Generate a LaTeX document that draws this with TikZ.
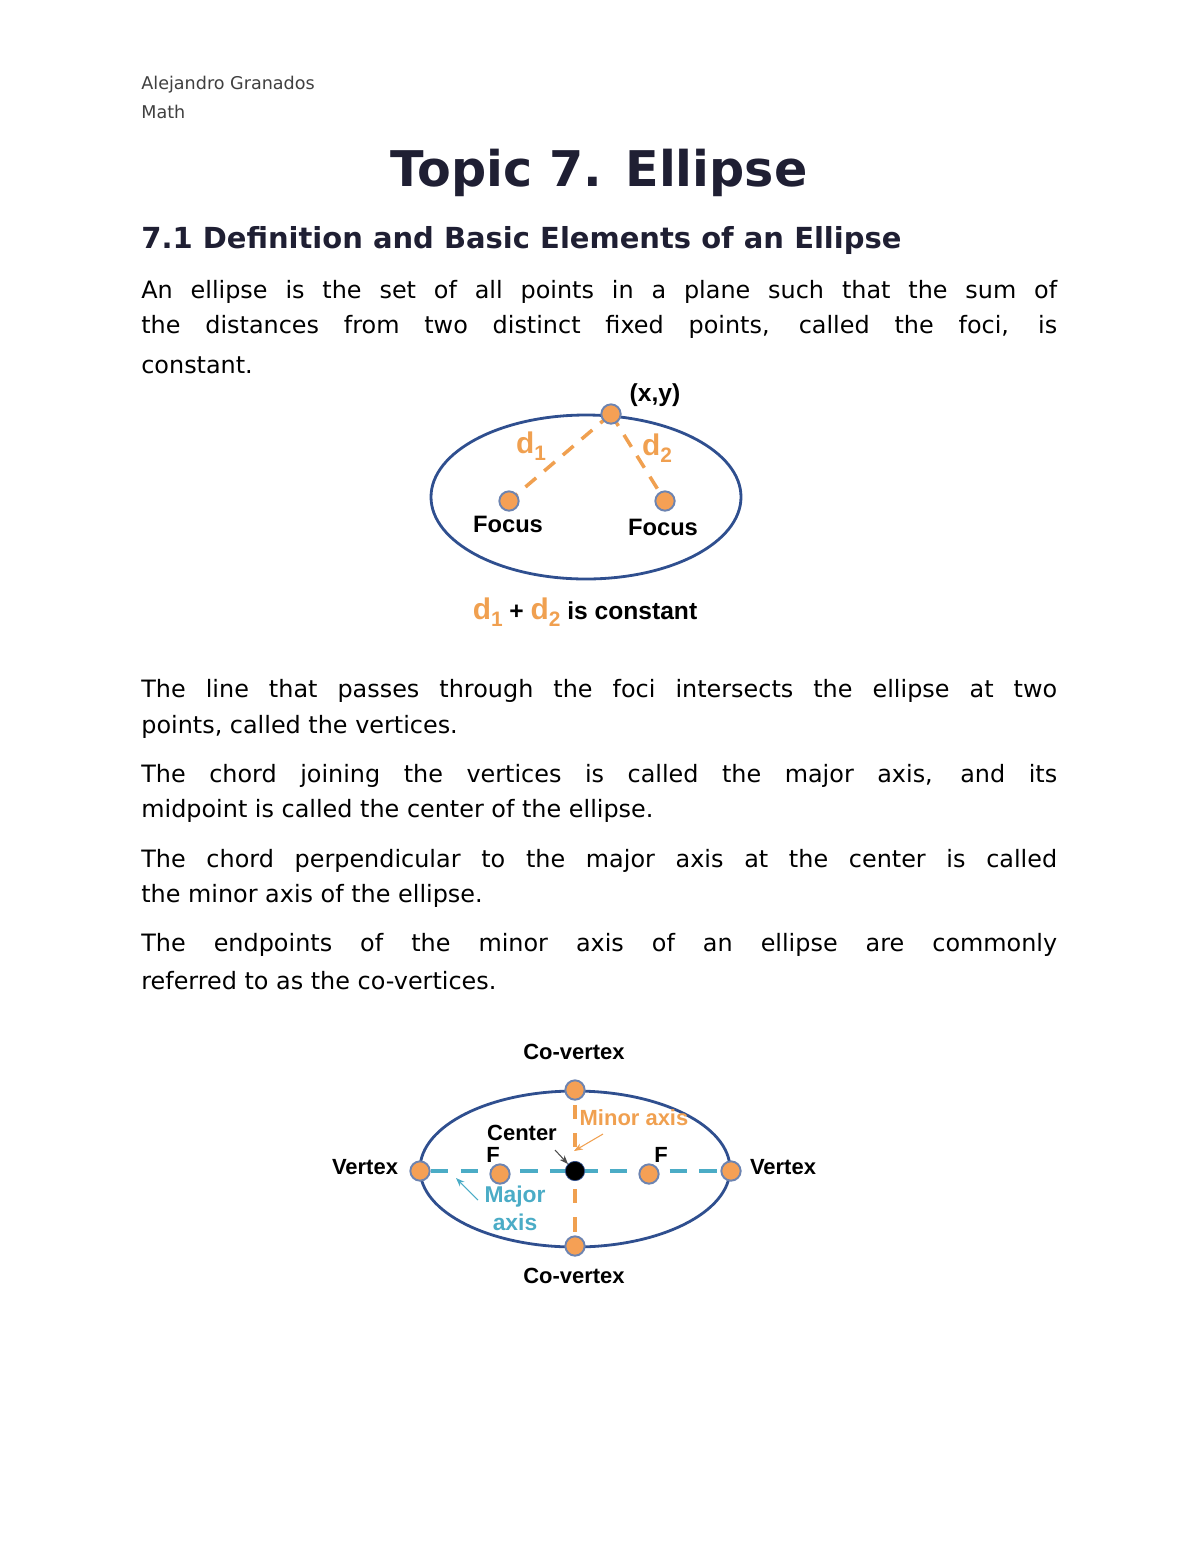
\documentclass[tikz,border=0pt]{standalone}
\usepackage{fontspec}
\setmainfont{DejaVu Sans}
\newfontfamily\arial{Liberation Sans}
\usetikzlibrary{arrows.meta}
\definecolor{ora}{HTML}{F5A055}
\definecolor{dorg}{HTML}{F0A050}
\definecolor{eblue}{HTML}{2F4F8F}
\definecolor{cyn}{HTML}{4BACC6}
\definecolor{ttl}{HTML}{1F1F33}
\newcommand{\sbs}[1]{\raisebox{-0.25em}{\scalebox{0.7}{#1}}}
\tikzset{
 body/.style={anchor=west,inner sep=0,font=\fontsize{13.6}{16}\selectfont},
 dot/.style={circle,fill=ora,draw=eblue!70,line width=1.1pt,minimum size=11pt,inner sep=0},
 lab/.style={inner sep=0,font=\arial\bfseries\fontsize{12.5}{14}\selectfont},
 ell/.style={draw=eblue,line width=1.6pt},
}
\newcommand{\jline}[3]{\node[body] (#1) at (141,#2) {\makebox[18.32cm][s]{#3}};}
\begin{document}
\begin{tikzpicture}[x=0.02cm,y=-0.02cm]
\useasboundingbox (0,0) rectangle (1200,1553);
\node[anchor=west,inner sep=0,font=\fontsize{10}{12}\selectfont,text=black!75] (h1) at (141,85) {Alejandro Granados};
\node[anchor=west,inner sep=0,font=\fontsize{10}{12}\selectfont,text=black!75] (h2) at (141,112) {Math};
\node[inner sep=0,font=\bfseries\fontsize{28}{34}\selectfont,text=ttl] (title) at (599,173) {Topic 7. Ellipse};
\node[anchor=west,inner sep=0,font=\bfseries\fontsize{16.5}{20}\selectfont,text=ttl] (sec) at (141,240) {7.1 Definition and Basic Elements of an Ellipse};
\jline{a1}{292}{An ellipse is the set of all points in a plane such that the sum of}
\jline{a2}{327}{the distances from two distinct fixed points, called the foci, is}
\node[body] (a3) at (141,365) {constant.};
\jline{b1}{691}{The line that passes through the foci intersects the ellipse at two}
\node[body] (b2) at (141,727) {points, called the vertices.};
\jline{c1}{776}{The chord joining the vertices is called the major axis, and its}
\node[body] (c2) at (141,811) {midpoint is called the center of the ellipse.};
\jline{d1}{861}{The chord perpendicular to the major axis at the center is called}
\node[body] (d2) at (141,896) {the minor axis of the ellipse.};
\jline{e1}{945}{The endpoints of the minor axis of an ellipse are commonly}
\node[body] (e2) at (141,981) {referred to as the co-vertices.};
% diagram 1
\draw[ell] (586,497) ellipse [x radius=155, y radius=82];
\coordinate (pc) at (611,414);
\coordinate (f1c) at (509,501);
\coordinate (f2c) at (665,501);
\draw[dorg,line width=2pt,dash pattern=on 8pt off 6pt] (pc) -- (f1c);
\draw[dorg,line width=2pt,dash pattern=on 8pt off 6pt] (pc) -- (f2c);
\node[dot] (p) at (pc) {};
\node[dot] (f1) at (f1c) {};
\node[dot] (f2) at (f2c) {};
\node[lab,font=\arial\bfseries\fontsize{14}{16}\selectfont] (xy) at (655,395) {(x,y)};
\node[lab,text=dorg,font=\arial\bfseries\fontsize{17}{19}\selectfont] (l1) at (531,446) {d\sbs{1}};
\node[lab,text=dorg,font=\arial\bfseries\fontsize{17}{19}\selectfont] (l2) at (657,448) {d\sbs{2}};
\node[lab,font=\arial\bfseries\fontsize{13.5}{16}\selectfont] (fc1) at (508,524) {Focus};
\node[lab,font=\arial\bfseries\fontsize{13.5}{16}\selectfont] (fc2) at (663,527) {Focus};
\node[lab,font=\arial\bfseries\fontsize{14}{16}\selectfont] (cst) at (585,612) {\textcolor{dorg}{\fontsize{17}{19}\selectfont d\sbs{1}} + \textcolor{dorg}{\fontsize{17}{19}\selectfont d\sbs{2}} is constant};
% diagram 2
\draw[ell] (575,1169) ellipse [x radius=155, y radius=78];
\coordinate (mt) at (575,1105);
\coordinate (mb) at (575,1256);
\draw[dorg,line width=2.2pt,dash pattern=on 8pt off 8pt] (mt) -- (mb);
\node[dot] (v1) at (420,1171) {};
\node[dot] (v2) at (731,1171) {};
\draw[cyn,line width=2.2pt,dash pattern=on 10pt off 7pt] (v1) -- (v2);
\node[dot] (cv1) at (575,1090) {};
\node[dot] (cv2) at (575,1246) {};
\node[dot] (F1) at (500,1174) {};
\node[dot] (F2) at (649,1174) {};
\node[circle,fill=black,draw=eblue,minimum size=11pt,inner sep=0] (ctr) at (575,1171) {};
\node[lab] (cvl1) at (574,1052) {Co-vertex};
\node[lab] (cvl2) at (574,1276) {Co-vertex};
\node[lab] (vl1) at (365,1167) {Vertex};
\node[lab] (vl2) at (783,1167) {Vertex};
\node[lab] (cl) at (522,1133) {Center};
\node[lab] (fl1) at (493,1155) {F};
\node[lab] (fl2) at (661,1155) {F};
\node[lab,text=dorg] (minl) at (634,1118) {Minor axis};
\node[lab,text=cyn,align=center,font=\arial\bfseries\fontsize{13}{16}\selectfont] (majl) at (515,1208) {Major\\axis};
\coordinate (ca) at (568,1164);
\coordinate (ma) at (574,1151);
\coordinate (ja) at (456,1178);
\draw[-{Stealth[length=5pt]},black!70,line width=0.6pt] (555,1150) -- (ca);
\draw[-{Stealth[length=5pt]},dorg,line width=0.6pt] (603,1134) -- (ma);
\draw[-{Stealth[length=5pt]},cyn,line width=0.6pt] (478,1200) -- (ja);
\end{tikzpicture}
\end{document}
